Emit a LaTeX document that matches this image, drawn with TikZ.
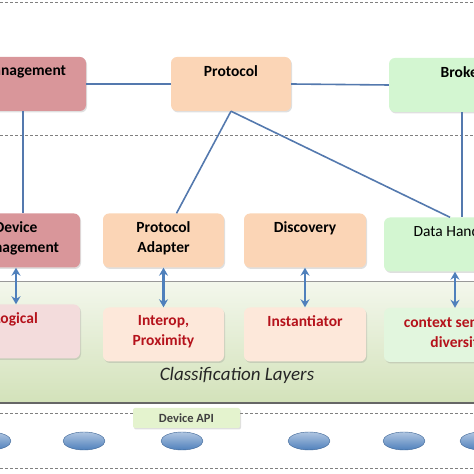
\documentclass[tikz,border=0pt]{standalone}
\usepackage{fontspec}
\setmainfont{Carlito}
\usetikzlibrary{arrows.meta,shadows,shapes.geometric}
\definecolor{rose}{HTML}{D9969A}
\definecolor{lrose}{HTML}{F3DCDC}
\definecolor{peach}{HTML}{FBD5B6}
\definecolor{lpeach}{HTML}{FDE8DA}
\definecolor{mint}{HTML}{D3F6D1}
\definecolor{lmint}{HTML}{E2F6DE}
\definecolor{apigreen}{HTML}{E4F3CE}
\definecolor{linkblue}{HTML}{5479AE}
\definecolor{arrblue}{HTML}{4F80BC}
\definecolor{darkred}{HTML}{B5121B}
\definecolor{bandtop}{HTML}{F3F7EC}
\definecolor{bandbot}{HTML}{D3E2BA}
\tikzset{
    box/.style={rounded corners=6pt, minimum height=54pt, inner sep=0pt,
        drop shadow={shadow xshift=1pt, shadow yshift=-1.5pt, opacity=0.25}},
    lbl/.style={anchor=north, align=center, font=\fontsize{15.5}{20}\selectfont\bfseries},
    rlbl/.style={lbl, text=darkred},
    link/.style={draw=linkblue, line width=1.6pt},
    dbl/.style={draw=arrblue, line width=2.2pt, {Stealth[length=8pt,width=9pt]}-{Stealth[length=8pt,width=9pt]}},
    sep/.style={draw=gray, densely dashed, line width=0.6pt},
    dev/.style={ellipse, minimum width=42pt, minimum height=18pt, draw=arrblue!80!black,
        top color=arrblue!45, bottom color=arrblue}
}
\begin{document}
\begin{tikzpicture}[x=1pt,y=1pt]
        \useasboundingbox (0,0) rectangle (474,474);
        \clip (0,0) rectangle (474,474);
        % layers
            \fill[top color=bandtop, bottom color=bandbot] (-5,71) rectangle (480,192);
            \draw[gray!80, line width=1pt] (-5,192) -- (480,192);
            \draw[black!60, line width=1.8pt] (-5,71) -- (480,71);
            \foreach \y in {472,339,61,6}
                \draw[sep] (-5,\y) -- (480,\y);
        % boxes
            \node[box, fill=rose, minimum width=126pt] (mgmt) at (23,390) {};
            \node[box, fill=peach, minimum width=120pt] (proto) at (231,390) {};
            \node[box, fill=mint, minimum width=146pt] (broker) at (462,389) {};
            \node[box, fill=rose, minimum width=128pt] (devmgmt) at (16,233.5) {};
            \node[box, fill=peach, minimum width=121pt] (padapter) at (163.5,233.5) {};
            \node[box, fill=peach, minimum width=122pt] (disc) at (305,233.5) {};
            \node[box, fill=mint, minimum width=142pt] (dhandler) at (455,229.5) {};
            \node[box, fill=lrose, minimum width=128pt] (logical) at (16,142.5) {};
            \node[box, fill=lpeach, minimum width=121pt] (interop) at (163.5,139.5) {};
            \node[box, fill=lpeach, minimum width=122pt] (inst) at (305,139.5) {};
            \node[box, fill=lmint, minimum width=142pt] (context) at (455,139) {};
        % links
            \draw[link] (mgmt.east) -- (proto.west);
            \draw[link] (proto.east) -- (broker.west);
            \draw[link] (mgmt.south) -- (mgmt.south |- devmgmt.north);
            \draw[link] (proto.south) -- ([xshift=13pt]padapter.north);
            \draw[link] (proto.south) -- ([xshift=-5pt]dhandler.north);
            \draw[link] (broker.south) -- (broker.south |- dhandler.north);
            \foreach \a/\b in {devmgmt/logical,padapter/interop,disc/inst,dhandler/context}
                \draw[dbl] (\a.south) -- (\b.north);
        % labels
            \node[lbl] (mgmtT) at ([yshift=-5pt]mgmt.north) {Management};
            \node[lbl] (protoT) at ([yshift=-5pt]proto.north) {Protocol};
            \node[lbl] (brokerT) at ([yshift=-5pt]broker.north) {Broker};
            \node[lbl] (devmgmtT) at ([yshift=-5pt]devmgmt.north) {Device\\Management};
            \node[lbl] (padapterT) at ([yshift=-5pt]padapter.north) {Protocol\\Adapter};
            \node[lbl] (discT) at ([yshift=-5pt]disc.north) {Discovery};
            \node[lbl, font=\fontsize{15.5}{20}\selectfont] (dhandlerT) at ([yshift=-5pt]dhandler.north) {Data Handler};
            \node[rlbl] (logicalT) at ([yshift=-5pt]logical.north) {Logical};
            \node[rlbl] (interopT) at ([yshift=-5pt]interop.north) {Interop,\\Proximity};
            \node[rlbl] (instT) at ([yshift=-5pt]inst.north) {Instantiator};
            \node[rlbl] (contextT) at ([yshift=-5pt,xshift=3pt]context.north) {context sensitive\\diversity};
            \node[font=\fontsize{19}{22}\selectfont\itshape, text=black!85] (classT) at (237,99) {Classification Layers};
        % devices
            \node[box, fill=apigreen, minimum width=107pt, minimum height=20pt, rounded corners=2pt,
                font=\fontsize{12.5}{14}\selectfont\bfseries, text=black!75] (api) at (186.5,56) {Device API};
            \foreach \i/\x in {0/-10,1/84,2/182,3/309,4/404,5/481}
                \node[dev] (dev\i) at (\x,33) {};
        \end{tikzpicture}
\end{document}
